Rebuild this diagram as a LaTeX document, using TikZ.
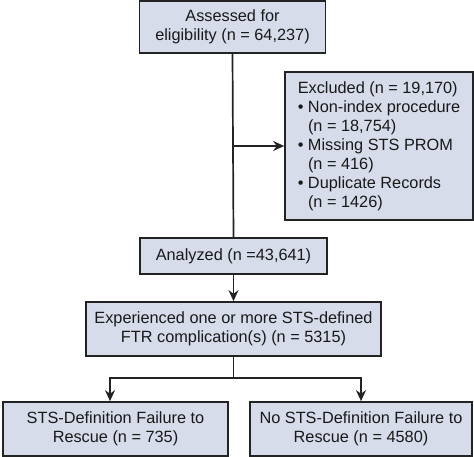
\documentclass[tikz,border=0pt]{standalone}
\usepackage{fontspec}
\setmainfont{Liberation Sans}
\usetikzlibrary{arrows.meta}
\definecolor{boxfill}{RGB}{215,220,235}
\definecolor{boxline}{RGB}{35,35,35}

\begin{document}
\begin{tikzpicture}[x=1pt, y=1pt, line width=1.7pt, line join=miter,
  box/.style={draw=boxline, fill=boxfill, align=center, inner sep=0pt,
    font=\fontsize{16.3}{19}\selectfont, text=black!90},
  arr/.style={-{Stealth[length=11pt, width=10pt]}}]
  \useasboundingbox (0,0) rectangle (474,-456);
  % Top box and the excluded records.
  \node[box, minimum width=186pt, minimum height=52pt] (assess) at (232.5,-27) {Assessed for\\eligibility (n = 64,237)};
  \node[box, minimum width=188pt, minimum height=148pt, align=left] (excl) at (379,-146)
    {Excluded (n = 19,170)\\
     \textbullet\ Non-index procedure\\
     \phantom{\textbullet\ }(n = 18,754)\\
     \textbullet\ Missing STS PROM\\
     \phantom{\textbullet\ }(n = 416)\\
     \textbullet\ Duplicate Records\\
     \phantom{\textbullet\ }(n = 1426)};
  % Middle boxes.
  \node[box, minimum width=187pt, minimum height=36pt] (analyzed) at (233.5,-256) {Analyzed (n =43,641)};
  \node[box, minimum width=295pt, minimum height=54pt] (exp) at (233.5,-329) {Experienced one or more STS-defined\\FTR complication(s) (n = 5315)};
  % Bottom split.
  \node[box, minimum width=225pt, minimum height=54pt] (fail) at (115.5,-429) {STS-Definition Failure to\\Rescue (n = 735)};
  \node[box, minimum width=222pt, minimum height=54pt] (nofail) at (361,-429) {No STS-Definition Failure to\\Rescue (n = 4580)};
  \coordinate (split) at (233.5,-378);
  % Connectors.
  \draw[boxline] (assess.south) -- (analyzed.north);
  \draw[boxline, arr] (assess.south |- excl.west) -- (excl.west);
  \draw[boxline, arr] (analyzed.south) -- (exp.north);
  \draw[boxline] (exp.south) -- (split);
  \draw[boxline, arr] (split) -| ([xshift=-5.5pt]fail.north);
  \draw[boxline, arr] (split) -| (nofail.north);
\end{tikzpicture}
\end{document}
